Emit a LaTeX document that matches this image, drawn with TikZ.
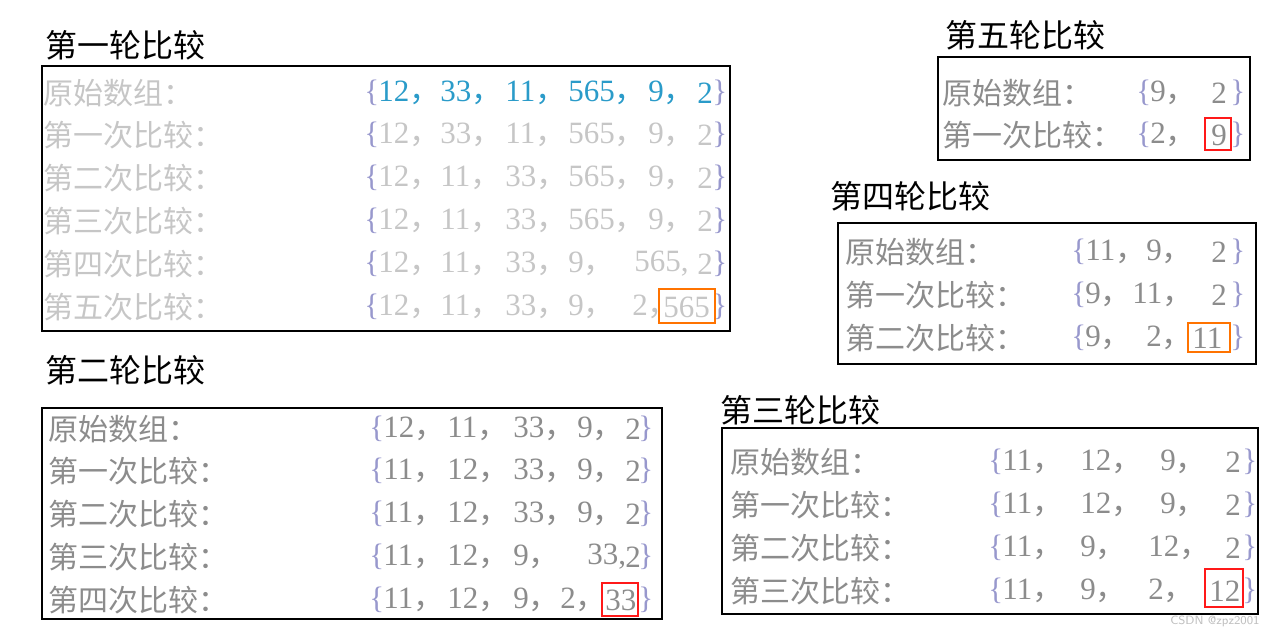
\documentclass[tikz,border=0pt]{standalone}
\usepackage{fontspec}
\setmainfont{Liberation Serif}
\newfontfamily\cjk{Noto Sans CJK SC}
\newcommand{\cm}{{\cjk ，}}
\tikzset{
  lbl/.style={anchor=west, inner sep=0pt, font=\cjk\fontsize{15pt}{15pt}\selectfont, text=gray!90},
  num/.style={anchor=west, inner sep=0pt, font=\fontsize{15.5pt}{15pt}\selectfont, text=gray!90},
  brc/.style={anchor=west, inner sep=0pt, font=\fontsize{15.5pt}{15pt}\selectfont, text=blue!35!gray!60},
  ttl/.style={anchor=west, inner sep=0pt, font=\cjk\fontsize{16pt}{16pt}\selectfont},
  frame/.style={draw, line width=1.4pt},
  hlbox/.style={draw, line width=1.3pt}
}
\begin{document}
\begin{tikzpicture}[x=0.5pt, y=-0.5pt]
\useasboundingbox (0,0) rectangle (1275,636);

% round one
\node[ttl] (t1) at (45,45) {第一轮比较};
\draw[frame] (42,66) rectangle (730,331);
\foreach \y/\l in {93/原始数组：, 135/第一次比较：, 178/第二次比较：, 221/第三次比较：, 264/第四次比较：, 307/第五次比较：}
  \node[lbl, text=gray!45] at (43,\y) {\l};
\foreach \y in {93,135,178,221,264,307} {
  \node[brc] at (364,\y) {\{};
  \node[brc] at (712,\y) {\}};
}
\foreach \x/\v in {378/12\cm, 440/33\cm, 505/11\cm, 568/565\cm, 648/9\cm, 697/2}
  \node[num, text=cyan!60!teal] at (\x,93) {\v};
\foreach \x/\v in {378/12\cm, 440/33\cm, 505/11\cm, 568/565\cm, 648/9\cm, 697/2}
  \node[num, text=gray!45] at (\x,135) {\v};
\foreach \y in {178,221}
  \foreach \x/\v in {378/12\cm, 440/11\cm, 505/33\cm, 568/565\cm, 648/9\cm, 697/2}
    \node[num, text=gray!45] at (\x,\y) {\v};
\foreach \x/\v in {378/12\cm, 440/11\cm, 505/33\cm, 568/9\cm, 634/{565,}, 697/2}
  \node[num, text=gray!45] at (\x,264) {\v};
\foreach \x/\v in {378/12\cm, 440/11\cm, 505/33\cm, 568/9\cm, 632/2\cm, 663/565}
  \node[num, text=gray!45] at (\x,307) {\v};
\draw[hlbox, orange!90!red] (659,289) rectangle (715,323);

% round two
\node[ttl] (t2) at (45,370) {第二轮比较};
\draw[frame] (42,408) rectangle (662,619);
\foreach \y/\l in {429/原始数组：, 471/第一次比较：, 514/第二次比较：, 557/第三次比较：, 600/第四次比较：}
  \node[lbl] at (48,\y) {\l};
\foreach \y in {429,471,514,557,600} {
  \node[brc] at (369,\y) {\{};
  \node[brc] at (638,\y) {\}};
}
\foreach \x/\v in {383/12\cm, 447/11\cm, 513/33\cm, 577/9\cm, 625/2}
  \node[num] at (\x,429) {\v};
\foreach \y in {471,514}
  \foreach \x/\v in {383/11\cm, 447/12\cm, 513/33\cm, 577/9\cm, 625/2}
    \node[num] at (\x,\y) {\v};
\foreach \x/\v in {383/11\cm, 447/12\cm, 513/9\cm, 587/{33,}, 625/2}
  \node[num] at (\x,557) {\v};
\foreach \x/\v in {383/11\cm, 447/12\cm, 513/9\cm, 560/2\cm, 605/33}
  \node[num] at (\x,600) {\v};
\draw[hlbox, red!90] (602,583) rectangle (638,616);

% round three
\node[ttl] (t3) at (720,410) {第三轮比较};
\draw[frame] (722,428) rectangle (1258,614);
\foreach \y/\l in {462/原始数组：, 505/第一次比较：, 548/第二次比较：, 591/第三次比较：}
  \node[lbl] at (730,\y) {\l};
\foreach \y in {462,505,548,591} {
  \node[brc] at (988,\y) {\{};
  \node[brc] at (1242,\y) {\}};
}
\foreach \y in {462,505}
  \foreach \x/\v in {1002/11\cm, 1080/12\cm, 1160/9\cm, 1225/2}
    \node[num] at (\x,\y) {\v};
\foreach \x/\v in {1002/11\cm, 1080/9\cm, 1148/12\cm, 1225/2}
  \node[num] at (\x,548) {\v};
\foreach \x/\v in {1002/11\cm, 1080/9\cm, 1148/2\cm, 1209/12}
  \node[num] at (\x,591) {\v};
\draw[hlbox, red!90] (1205,569) rectangle (1243,607);

% round four
\node[ttl] (t4) at (830,196) {第四轮比较};
\draw[frame] (838,223) rectangle (1256,364);
\foreach \y/\l in {252/原始数组：, 295/第一次比较：, 338/第二次比较：}
  \node[lbl] at (845,\y) {\l};
\foreach \y in {252,295,338} {
  \node[brc] at (1071,\y) {\{};
  \node[brc] at (1230,\y) {\}};
}
\foreach \x/\v in {1085/11\cm, 1146/9\cm, 1211/2}
  \node[num] at (\x,252) {\v};
\foreach \x/\v in {1085/9\cm, 1132/11\cm, 1211/2}
  \node[num] at (\x,295) {\v};
\foreach \x/\v in {1085/9\cm, 1146/2\cm, 1192/11}
  \node[num] at (\x,338) {\v};
\draw[hlbox, orange!90!red] (1188,323) rectangle (1230,352);

% round five
\node[ttl] (t5) at (945,35) {第五轮比较};
\draw[frame] (938,57) rectangle (1250,160);
\foreach \y/\l in {93/原始数组：, 135/第一次比较：}
  \node[lbl] at (942,\y) {\l};
\foreach \y in {93,135} {
  \node[brc] at (1136,\y) {\{};
  \node[brc] at (1230,\y) {\}};
}
\foreach \x/\v in {1150/9\cm, 1211/2}
  \node[num] at (\x,93) {\v};
\foreach \x/\v in {1150/2\cm, 1211/9}
  \node[num] at (\x,135) {\v};
\draw[hlbox, red!90] (1205,118) rectangle (1231,150);

\node[anchor=east, inner sep=0pt, font=\sffamily\fontsize{6pt}{6pt}\selectfont, text=gray!50] (wm) at (1260,621) {CSDN @zpz2001};
\end{tikzpicture}
\end{document}
